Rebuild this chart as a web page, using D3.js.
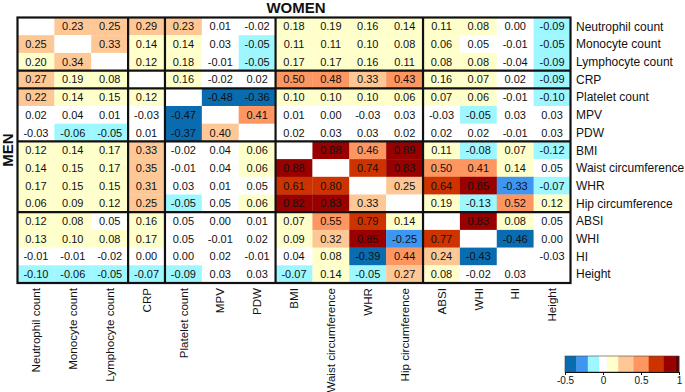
<!DOCTYPE html>
<html>
<head>
<meta charset="utf-8">
<script src="https://cdn.jsdelivr.net/npm/d3@7"></script>
<style>
  html, body { margin: 0; padding: 0; background: #ffffff; }
  svg { display: block; font-family: "Liberation Sans", Arial, sans-serif; }
</style>
</head>
<body>
<svg id="chart" width="685" height="392"></svg>
<script>
// ---- data ----
const variables = ["Neutrophil count", "Monocyte count", "Lymphocyte count", "CRP",
  "Platelet count", "MPV", "PDW", "BMI", "Waist circumference", "WHR",
  "Hip circumference", "ABSI", "WHI", "HI", "Height"];

// upper triangle = WOMEN, lower triangle = MEN, diagonal empty
const correlations = [
  [null, 0.23, 0.25, 0.29, 0.23, 0.01, -0.02, 0.18, 0.19, 0.16, 0.14, 0.11, 0.08, 0.00, -0.09],
  [0.25, null, 0.33, 0.14, 0.14, 0.03, -0.05, 0.11, 0.11, 0.10, 0.08, 0.06, 0.05, -0.01, -0.05],
  [0.20, 0.34, null, 0.12, 0.18, -0.01, -0.05, 0.17, 0.17, 0.16, 0.11, 0.08, 0.08, -0.04, -0.09],
  [0.27, 0.19, 0.08, null, 0.16, -0.02, 0.02, 0.50, 0.48, 0.33, 0.43, 0.16, 0.07, 0.02, -0.09],
  [0.22, 0.14, 0.15, 0.12, null, -0.48, -0.36, 0.10, 0.10, 0.10, 0.06, 0.07, 0.06, -0.01, -0.10],
  [0.02, 0.04, 0.01, -0.03, -0.47, null, 0.41, 0.01, 0.00, -0.03, 0.03, -0.03, -0.05, 0.03, 0.03],
  [-0.03, -0.06, -0.05, 0.01, -0.37, 0.40, null, 0.02, 0.03, 0.03, 0.02, 0.02, 0.02, -0.01, 0.03],
  [0.12, 0.14, 0.17, 0.33, -0.02, 0.04, 0.06, null, 0.88, 0.46, 0.89, 0.11, -0.08, 0.07, -0.12],
  [0.14, 0.15, 0.17, 0.35, -0.01, 0.04, 0.06, 0.88, null, 0.74, 0.83, 0.50, 0.41, 0.14, 0.05],
  [0.17, 0.15, 0.15, 0.31, 0.03, 0.01, 0.05, 0.61, 0.80, null, 0.25, 0.64, 0.85, -0.33, -0.07],
  [0.06, 0.09, 0.12, 0.25, -0.05, 0.05, 0.06, 0.82, 0.83, 0.33, null, 0.19, -0.13, 0.52, 0.12],
  [0.12, 0.08, 0.05, 0.16, 0.05, 0.00, 0.01, 0.07, 0.55, 0.79, 0.14, null, 0.83, 0.08, 0.05],
  [0.13, 0.10, 0.08, 0.17, 0.05, -0.01, 0.02, 0.09, 0.32, 0.85, -0.25, 0.77, null, -0.46, 0.00],
  [-0.01, -0.01, -0.02, 0.00, 0.00, 0.02, -0.01, 0.04, 0.08, -0.39, 0.44, 0.24, -0.43, null, -0.03],
  [-0.10, -0.06, -0.05, -0.07, -0.09, 0.03, 0.03, -0.07, 0.14, -0.05, 0.27, 0.08, -0.02, 0.03, null]
];

// group boundaries (index after which a thick line is drawn)
const groupBreaks = [3, 4, 7, 11, 14];

// colour classes
const colorBreaks = [-0.35, -0.2, -0.05, 0.05, 0.2, 0.4, 0.6, 0.8, 0.95];
const colorRange = ["#0a6cb0", "#3d97f2", "#9ef7ff", "#ffffff", "#ffffcc",
  "#fec896", "#fd9660", "#cc3300", "#990000", "#5a0000"];
const legendTicks = [-0.5, 0, 0.5, 1];
const legendDomain = [-0.5, 1];

// ---- drawing ----
const svg = d3.select("#chart");

const x = d3.scaleBand().domain(d3.range(variables.length)).range([17.5, 570.5]).padding(0);
const y = d3.scaleBand().domain(d3.range(variables.length)).range([17.5, 283]).padding(0);

const colorOf = v => colorRange[d3.bisectLeft(colorBreaks, v)];

const cells = [];
correlations.forEach((row, i) => row.forEach((v, j) => cells.push({ i, j, v })));

const g = svg.append("g");

g.selectAll("rect.cell")
  .data(cells)
  .join("rect")
  .attr("class", "cell")
  .attr("x", d => x(d.j))
  .attr("y", d => y(d.i))
  .attr("width", x.bandwidth() + 0.3)
  .attr("height", y.bandwidth() + 0.3)
  .attr("fill", d => d.v === null ? "#ffffff" : colorOf(d.v));

g.selectAll("text.val")
  .data(cells.filter(d => d.v !== null))
  .join("text")
  .attr("class", "val")
  .attr("x", d => x(d.j) + x.bandwidth() / 2)
  .attr("y", d => y(d.i) + y.bandwidth() / 2)
  .attr("dy", "0.36em")
  .attr("text-anchor", "middle")
  .attr("font-size", 11)
  .attr("fill", "#111")
  .text(d => d.v.toFixed(2));

// thick group lines
const x0 = x.range()[0], x1 = x.range()[1], y0 = y.range()[0], y1 = y.range()[1];
const lines = g.append("g").attr("stroke", "#111").attr("stroke-width", 2.2);
groupBreaks.slice(0, -1).forEach(b => {
  const xp = x(b), yp = y(b);
  lines.append("line").attr("x1", xp).attr("x2", xp).attr("y1", y0).attr("y2", y1);
  lines.append("line").attr("x1", x0).attr("x2", x1).attr("y1", yp).attr("y2", yp);
});
g.append("rect")
  .attr("x", x0).attr("y", y0).attr("width", x1 - x0).attr("height", y1 - y0)
  .attr("fill", "none").attr("stroke", "#111").attr("stroke-width", 2.2);

// right labels
svg.append("g").selectAll("text")
  .data(variables)
  .join("text")
  .attr("x", 576)
  .attr("y", (d, i) => y(i) + y.bandwidth() / 2)
  .attr("dy", "0.36em")
  .attr("font-size", 12)
  .attr("fill", "#111")
  .text(d => d);

// bottom labels (rotated)
svg.append("g").selectAll("text")
  .data(variables)
  .join("text")
  .attr("transform", (d, i) => `translate(${x(i) + x.bandwidth() / 2},288) rotate(-90)`)
  .attr("dy", "0.36em")
  .attr("text-anchor", "end")
  .attr("font-size", 11.6)
  .attr("fill", "#111")
  .text(d => d);

// titles
svg.append("text")
  .attr("x", 296).attr("y", 12.5)
  .attr("text-anchor", "middle")
  .attr("font-size", 15).attr("font-weight", "bold")
  .attr("fill", "#111")
  .text("WOMEN");

svg.append("text")
  .attr("transform", "translate(12.5,150) rotate(-90)")
  .attr("text-anchor", "middle")
  .attr("font-size", 15).attr("font-weight", "bold")
  .attr("fill", "#111")
  .text("MEN");

// legend
const lx = d3.scaleLinear().domain(legendDomain).range([565, 679]);
const bounds = [legendDomain[0], ...colorBreaks, legendDomain[1]];
const leg = svg.append("g");
leg.selectAll("rect")
  .data(colorRange)
  .join("rect")
  .attr("x", (d, i) => lx(bounds[i]))
  .attr("y", 356)
  .attr("width", (d, i) => lx(bounds[i + 1]) - lx(bounds[i]) + 0.3)
  .attr("height", 16)
  .attr("fill", d => d);
leg.append("rect")
  .attr("x", lx(legendDomain[0])).attr("y", 356)
  .attr("width", lx(legendDomain[1]) - lx(legendDomain[0])).attr("height", 16)
  .attr("fill", "none").attr("stroke", "#444").attr("stroke-width", 0.6);

const axis = d3.axisBottom(lx).tickValues(legendTicks).tickSize(3).tickFormat(d => String(d));
const ag = leg.append("g").attr("transform", "translate(0,372)").call(axis);
ag.select(".domain").attr("stroke", "#111");
ag.selectAll(".tick line").attr("stroke", "#111");
ag.selectAll(".tick text").attr("font-size", 10).attr("fill", "#111")
  .attr("font-family", "Liberation Sans, Arial, sans-serif").attr("dy", "0.6em");
</script>
</body>
</html>
